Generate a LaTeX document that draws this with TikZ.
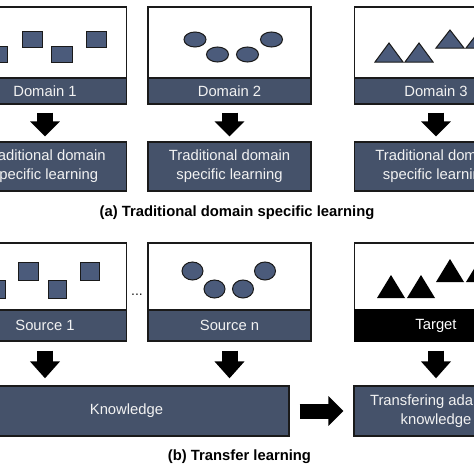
\documentclass[tikz,border=0pt]{standalone}
\usepackage{fontspec}
\setmainfont{Liberation Sans}
\usetikzlibrary{arrows.meta}
\definecolor{bandfill}{HTML}{45526A}
\definecolor{shapefill}{HTML}{4B5B7B}
\definecolor{txtlight}{HTML}{F2F2F2}
\definecolor{edge}{HTML}{1A1A1A}
\tikzset{
  panel/.style={draw=edge, line width=1.3pt, fill=white, minimum width=163pt, inner sep=0pt},
  band/.style={draw=edge, line width=1.3pt, fill=bandfill, minimum width=163pt, inner sep=0pt, text=txtlight, font=\fontsize{14.8}{17}\selectfont},
  result/.style={draw=edge, line width=1.3pt, fill=bandfill, inner sep=0pt, text=txtlight, align=center, font=\fontsize{14.8}{19}\selectfont},
  sq/.style={draw=edge, line width=1pt, fill=shapefill},
  blockdown/.style={line width=16pt, -{Triangle[width=29pt,length=15pt]}},
  blockright/.style={line width=15pt, -{Triangle[width=29pt,length=15pt]}},
  caption/.style={font=\bfseries\fontsize{14.8}{17}\selectfont, text=black}
}
\begin{document}
\begin{tikzpicture}[x=1pt,y=-1pt]
\useasboundingbox (0,0) rectangle (474,474);
\clip (0,0) rectangle (474,474);
% ---------- (a) top row ----------
\node[panel, minimum height=97pt] (d1) at (45,55.5) {};
\node[panel, minimum height=97pt] (d2) at (229.5,55.5) {};
\node[panel, minimum height=97pt] (d3) at (436,55.5) {};
\node[band, minimum height=26pt] (b1) at (45,91) {Domain 1};
\node[band, minimum height=26pt] (b2) at (229.5,91) {Domain 2};
\node[band, minimum height=26pt] (b3) at (436,91) {Domain 3};
% shapes domain 1
\draw[sq] (-13,46) rectangle (7,62);
\draw[sq] (22,31) rectangle (42,47);
\draw[sq] (51,46) rectangle (72,62);
\draw[sq] (86,31) rectangle (106,47);
% shapes domain 2
\draw[sq] (195,39.5) ellipse [x radius=11pt, y radius=7.5pt];
\draw[sq] (217.5,54.5) ellipse [x radius=11pt, y radius=7.5pt];
\draw[sq] (247.5,54.5) ellipse [x radius=11pt, y radius=7.5pt];
\draw[sq] (271.5,39.5) ellipse [x radius=11pt, y radius=7.5pt];
% shapes domain 3
\draw[sq] (375,62) -- (389,43) -- (403,62) -- cycle;
\draw[sq] (405,62) -- (419,43) -- (433,62) -- cycle;
\draw[sq] (436,48) -- (450,30) -- (464,48) -- cycle;
\draw[sq] (466,48) -- (480,30) -- (494,48) -- cycle;
% results
\node[result, minimum width=163pt, minimum height=49pt] (r1) at (45,166.5) {Traditional domain\\specific learning};
\node[result, minimum width=163pt, minimum height=49pt] (r2) at (229.5,166.5) {Traditional domain\\specific learning};
\node[result, minimum width=163pt, minimum height=49pt] (r3) at (436,166.5) {Traditional domain\\specific learning};
\draw[blockdown, shorten <=8pt, shorten >=5pt] (b1.south) -- (r1.north);
\draw[blockdown, shorten <=8pt, shorten >=5pt] (b2.south) -- (r2.north);
\draw[blockdown, shorten <=8pt, shorten >=5pt] (b3.south) -- (r3.north);
\node[caption] (capa) at (237,213) {(a) Traditional domain specific learning};
% ---------- (b) bottom row ----------
\node[panel, minimum height=98pt] (s1) at (45,292) {};
\node[panel, minimum height=98pt] (sn) at (229.5,292) {};
\node[panel, minimum height=98pt] (tg) at (436,292) {};
\node[band, minimum height=31pt] (bs1) at (45,325.5) {Source 1};
\node[band, minimum height=31pt] (bsn) at (229.5,325.5) {Source n};
\node[band, minimum height=31pt, fill=black, draw=black, text=white] (btg) at (436,325.5) {Target};
\node[text=edge, font=\fontsize{14}{16}\selectfont] (dots) at (137,295) {...};
% shapes source 1
\draw[sq] (-14,280) rectangle (5,298);
\draw[sq] (18,262) rectangle (38,280);
\draw[sq] (48,280) rectangle (66,298);
\draw[sq] (80,262) rectangle (99,280);
% shapes source n
\draw[sq] (192.5,271) ellipse [x radius=10.5pt, y radius=9pt];
\draw[sq] (214.5,289) ellipse [x radius=10.5pt, y radius=9pt];
\draw[sq] (243,289) ellipse [x radius=10.5pt, y radius=9pt];
\draw[sq] (265,271) ellipse [x radius=10.5pt, y radius=9pt];
% shapes target
\fill[black] (377,298) -- (391,275) -- (405,298) -- cycle;
\fill[black] (407,298) -- (421,275) -- (435,298) -- cycle;
\fill[black] (436,282) -- (450,259) -- (464,282) -- cycle;
\fill[black] (466,282) -- (480,259) -- (494,282) -- cycle;
% knowledge and transfer
\node[result, minimum width=325pt, minimum height=50pt] (kn) at (126.5,411) {Knowledge};
\node[result, minimum width=164pt, minimum height=50pt] (tr) at (436,411) {Transfering adapted\\knowledge};
\draw[blockdown, shorten <=9pt, shorten >=7pt, -{Triangle[width=29pt,length=17pt]}] (bs1.south) -- (bs1.south |- kn.north);
\draw[blockdown, shorten <=9pt, shorten >=7pt, -{Triangle[width=29pt,length=17pt]}] (bsn.south) -- (bsn.south |- kn.north);
\draw[blockdown, shorten <=9pt, shorten >=7pt, -{Triangle[width=29pt,length=17pt]}] (btg.south) -- (tr.north);
\draw[blockright, shorten <=10pt, shorten >=10pt] (kn.east) -- (tr.west);
\node[caption] (capb) at (239.5,457) {(b) Transfer learning};
\end{tikzpicture}
\end{document}
